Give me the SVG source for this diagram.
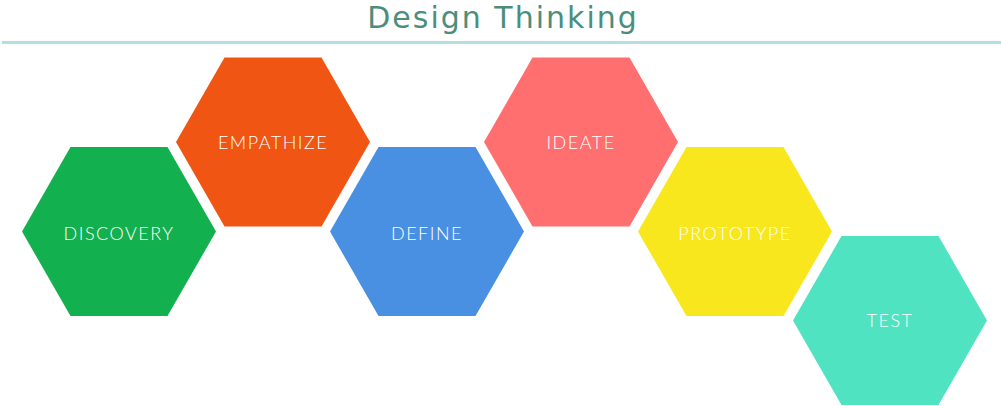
<svg xmlns="http://www.w3.org/2000/svg" width="1001" height="406" viewBox="0 0 1001 406">
<style>
.lbl{font-family:Lato,"Open Sans",sans-serif;font-weight:300;font-size:18px;fill:#ffffff;text-anchor:middle;dominant-baseline:central;letter-spacing:1.5px}
.title{font-family:"DejaVu Sans",sans-serif;font-weight:normal;font-size:30px;fill:#4b8e7b;text-anchor:middle;letter-spacing:2px}
</style>
<defs>
<polygon id="hex" points="-97,0 -48.5,-84.5 48.5,-84.5 97,0 48.5,84.5 -48.5,84.5"/>
</defs>
<rect width="1001" height="406" fill="#ffffff"/>
<text class="title" x="503" y="28">Design Thinking</text>
<line x1="2" y1="42.5" x2="1001" y2="42.5" stroke="#b0e0e2" stroke-width="3"/>
<g id="connectors"></g>
<g id="discovery" transform="translate(119,231.5)"><use href="#hex" fill="#13b04f"/><text class="lbl" x="0" y="1">DISCOVERY</text></g>
<g id="empathize" transform="translate(273,142)"><use href="#hex" fill="#f05514"/><text class="lbl" x="0" y="0">EMPATHIZE</text></g>
<g id="define" transform="translate(427,231.5)"><use href="#hex" fill="#4a90e2"/><text class="lbl" x="0" y="1">DEFINE</text></g>
<g id="ideate" transform="translate(581,142)"><use href="#hex" fill="#ff6f6f"/><text class="lbl" x="0" y="0">IDEATE</text></g>
<g id="prototype" transform="translate(735,231.5)"><use href="#hex" fill="#f8e71c"/><text class="lbl" x="0" y="1">PROTOTYPE</text></g>
<g id="test" transform="translate(890,320.5)"><use href="#hex" fill="#50e3c2"/><text class="lbl" x="0" y="-1">TEST</text></g>
</svg>
